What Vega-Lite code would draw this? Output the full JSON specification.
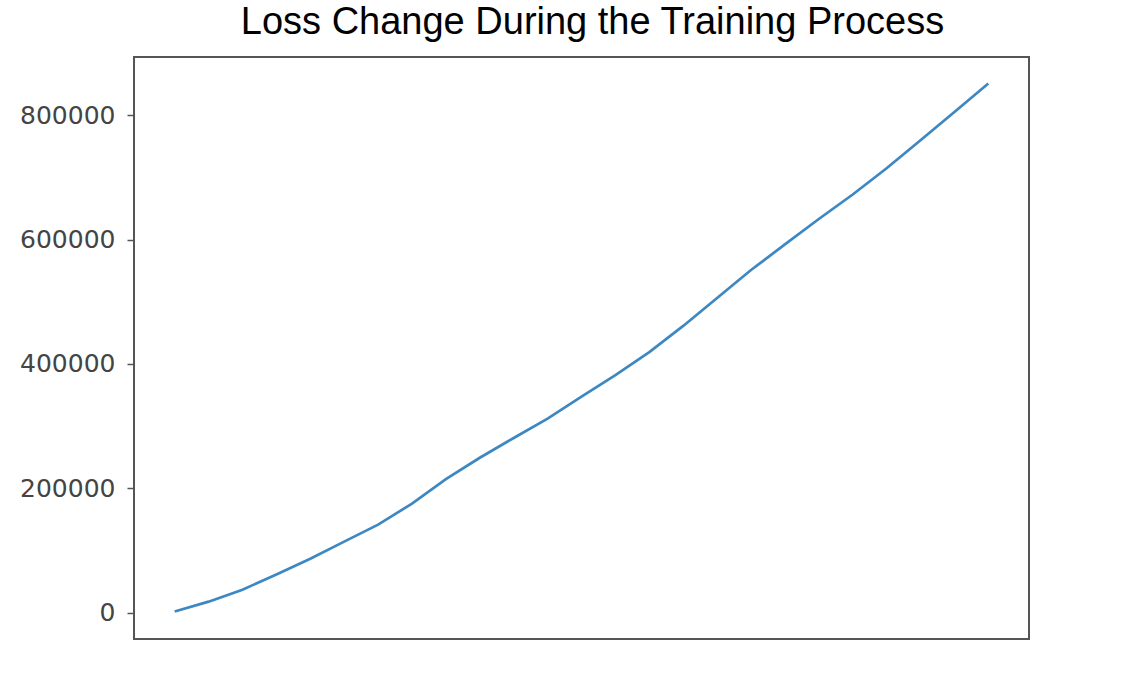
{
  "$schema": "https://vega.github.io/schema/vega-lite/v6.json",
  "autosize": {"type": "none"},
  "padding": {"left": 134, "top": 57, "right": 107, "bottom": 47},
  "width": 895,
  "height": 582,
  "background": "white",
  "title": {
    "text": "Loss Change During the Training Process",
    "font": "Liberation Sans",
    "fontSize": 38,
    "fontWeight": "normal",
    "color": "#000000",
    "frame": "group",
    "anchor": "middle",
    "dx": 11,
    "dy": 35,
    "baseline": "alphabetic",
    "offset": 20
  },
  "config": {"view": {"stroke": "#555555", "strokeWidth": 2}},
  "data": {
    "values": [
      {"step": 0, "loss": 1600},
      {"step": 1, "loss": 17500},
      {"step": 2, "loss": 36800},
      {"step": 3, "loss": 61100},
      {"step": 4, "loss": 86600},
      {"step": 5, "loss": 114100},
      {"step": 6, "loss": 141400},
      {"step": 7, "loss": 175200},
      {"step": 8, "loss": 214700},
      {"step": 9, "loss": 249000},
      {"step": 10, "loss": 280800},
      {"step": 11, "loss": 312000},
      {"step": 12, "loss": 347300},
      {"step": 13, "loss": 382000},
      {"step": 14, "loss": 419000},
      {"step": 15, "loss": 461000},
      {"step": 16, "loss": 506000},
      {"step": 17, "loss": 550900},
      {"step": 18, "loss": 592100},
      {"step": 19, "loss": 633000},
      {"step": 20, "loss": 672400},
      {"step": 21, "loss": 714500},
      {"step": 22, "loss": 759700},
      {"step": 23, "loss": 805000},
      {"step": 24, "loss": 851000}
    ]
  },
  "mark": {"type": "line", "color": "#3d88c2", "strokeWidth": 2.7},
  "encoding": {
    "x": {
      "field": "step",
      "type": "quantitative",
      "scale": {"domain": [-1.2, 25.2], "nice": false, "zero": false},
      "axis": null
    },
    "y": {
      "field": "loss",
      "type": "quantitative",
      "scale": {"domain": [-42550, 893550], "nice": false, "zero": false},
      "axis": {
        "title": null,
        "values": [0, 200000, 400000, 600000, 800000],
        "format": "d",
        "labelFont": "DejaVu Sans",
        "labelFontSize": 25,
        "labelColor": "#444444",
        "tickColor": "#555555",
        "tickSize": 7,
        "tickWidth": 1.5,
        "labelPadding": 12,
        "domain": false,
        "grid": false
      }
    }
  }
}
